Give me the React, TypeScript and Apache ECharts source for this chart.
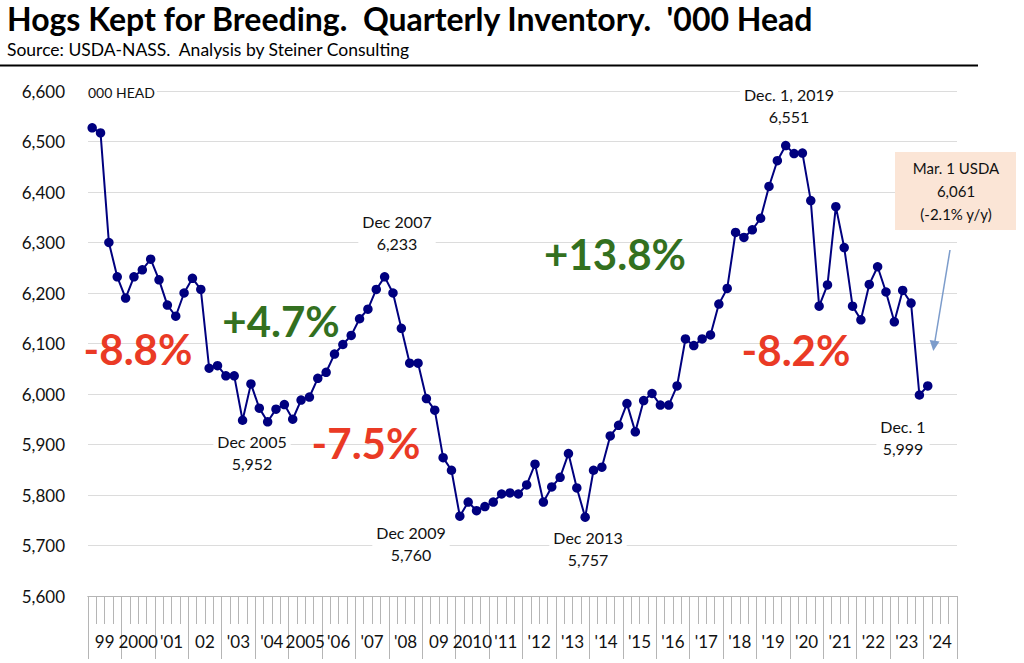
import React, { useEffect, useRef } from "react";
import * as echarts from "echarts";

// ---- Data ----
const yearLabels = [
  "99", "2000", "'01", "02", "'03", "'04", "2005", "'06", "'07", "'08", "09", "2010", "'11",
  "'12", "'13", "'14", "'15", "'16", "'17", "'18", "'19", "'20", "'21", "'22", "'23", "'24",
];
const quarterNames = ["Mar", "Jun", "Sep", "Dec"];
const firstYear = 1999;

// Hogs kept for breeding, '000 head, quarterly from Mar 1999
const inventory = [
  6527, 6517, 6300, 6232, 6190, 6232, 6246, 6267, 6226, 6176,
  6154, 6200, 6229, 6207, 6051, 6056, 6036, 6036, 5948, 6020,
  5972, 5945, 5970, 5979, 5950, 5988, 5994, 6031, 6043, 6079,
  6098, 6116, 6149, 6168, 6207, 6232, 6200, 6130, 6061, 6061,
  5991, 5968, 5874, 5849, 5758, 5786, 5769, 5777, 5786, 5802,
  5804, 5802, 5820, 5861, 5786, 5816, 5835, 5882, 5814, 5756,
  5849, 5855, 5917, 5938, 5981, 5925, 5987, 6001, 5978, 5978,
  6016, 6109, 6096, 6109, 6117, 6178, 6209, 6320, 6310, 6325,
  6348, 6411, 6462, 6492, 6476, 6477, 6383, 6174, 6216, 6371,
  6290, 6174, 6147, 6217, 6252, 6202, 6143, 6205, 6180, 5998,
  6016,
];

const yMin = 5600;
const yMax = 6600;
const yStep = 100;

const titleText = "Hogs Kept for Breeding.\u00a0 Quarterly Inventory.\u00a0 '000 Head";
const subtitleText = "Source: USDA-NASS.\u00a0 Analysis by Steiner Consulting";
const unitText = "000 HEAD";
const pointNotes = [
  "Dec 2005\n5,952",
  "Dec 2007\n6,233",
  "Dec 2009\n5,760",
  "Dec 2013\n5,757",
  "Dec. 1, 2019\n6,551",
  "Dec. 1\n5,999",
];
const changeNotes = ["-8.8%", "+4.7%", "-7.5%", "+13.8%", "-8.2%"];
const usdaNote = "Mar. 1 USDA\n6,061\n(-2.1% y/y)";

const quarterCats = yearLabels.flatMap((_, i) =>
  quarterNames.map((q) => `${q} ${firstYear + i}`)
);

const FONT = "Lato, 'Open Sans', sans-serif";
const RED = "#EA3A25";
const GREEN = "#33701F";

function noteText(text: string, x: number, y: number) {
  return {
    type: "text",
    x,
    y,
    z: 10,
    style: {
      text,
      fill: "#111",
      fontSize: 16,
      fontFamily: FONT,
      lineHeight: 22,
      align: "center",
      verticalAlign: "middle",
      textAlign: "center",
      textVerticalAlign: "middle",
      backgroundColor: "#fff",
      padding: [1, 4],
    },
  };
}

function bigText(text: string, x: number, y: number, color: string) {
  return {
    type: "text",
    x,
    y,
    z: 10,
    style: {
      text,
      fill: color,
      fontSize: 42,
      fontWeight: "bold",
      fontFamily: FONT,
      align: "center",
      verticalAlign: "middle",
      textAlign: "center",
      textVerticalAlign: "middle",
    },
  };
}

export default function App() {
  const ref = useRef<HTMLDivElement>(null);

  useEffect(() => {
    if (!ref.current) return;
    const chart = echarts.init(ref.current, null, { renderer: "svg" });

    const option: any = {
      animation: false,
      backgroundColor: "#fff",
      textStyle: { fontFamily: FONT },
      grid: { left: 88, right: 67, top: 91, bottom: 67, containLabel: false },
      xAxis: [
        {
          type: "category",
          position: "bottom",
          data: quarterCats,
          boundaryGap: true,
          axisLine: { show: true, lineStyle: { color: "#B5B5B5", width: 1 } },
          axisTick: { show: true, interval: 0, length: 28, lineStyle: { color: "#B5B5B5" } },
          axisLabel: { show: false },
          splitLine: { show: false },
        },
        {
          type: "category",
          position: "bottom",
          data: yearLabels,
          boundaryGap: true,
          axisLine: { show: true, lineStyle: { color: "#B5B5B5", width: 1 } },
          axisTick: { show: true, interval: 0, length: 63, lineStyle: { color: "#B5B5B5" } },
          axisLabel: {
            show: true,
            interval: 0,
            margin: 37,
            fontSize: 17,
            fontFamily: FONT,
            color: "#111",
          },
          splitLine: { show: false },
        },
      ],
      yAxis: {
        type: "value",
        min: yMin,
        max: yMax,
        interval: yStep,
        axisLine: { show: false },
        axisTick: { show: false },
        axisLabel: {
          margin: 23,
          fontSize: 17,
          fontFamily: FONT,
          color: "#111",
          formatter: (v: number) => v.toLocaleString("en-US"),
        },
        splitLine: { show: true, lineStyle: { color: "#DCDCDC", width: 1 } },
      },
      series: [
        {
          type: "line",
          xAxisIndex: 0,
          yAxisIndex: 0,
          data: inventory,
          symbol: "circle",
          symbolSize: 9.5,
          showAllSymbol: true,
          lineStyle: { color: "#00007F", width: 2 },
          itemStyle: { color: "#00007F" },
          z: 3,
        },
      ],
      graphic: [
        {
          type: "text",
          x: 7,
          y: 18,
          style: {
            text: titleText,
            fill: "#000",
            fontSize: 32,
            fontWeight: "bold",
            fontFamily: FONT,
            align: "left",
            verticalAlign: "middle",
            textAlign: "left",
            textVerticalAlign: "middle",
          },
        },
        {
          type: "text",
          x: 7,
          y: 49,
          style: {
            text: subtitleText,
            fill: "#000",
            fontSize: 17.5,
            fontFamily: FONT,
            align: "left",
            verticalAlign: "middle",
            textAlign: "left",
            textVerticalAlign: "middle",
          },
        },
        {
          type: "line",
          shape: { x1: 0, y1: 65.5, x2: 978, y2: 65.5 },
          style: { stroke: "#000", lineWidth: 2 },
        },
        {
          type: "text",
          x: 86,
          y: 92,
          z: 10,
          style: {
            text: unitText,
            fill: "#111",
            fontSize: 14,
            fontFamily: FONT,
            align: "left",
            verticalAlign: "middle",
            textAlign: "left",
            textVerticalAlign: "middle",
            backgroundColor: "#fff",
            padding: [2, 2],
          },
        },
        noteText(pointNotes[0], 252, 452),
        noteText(pointNotes[1], 397, 232),
        noteText(pointNotes[2], 411, 543),
        noteText(pointNotes[3], 588, 548),
        noteText(pointNotes[4], 789, 105),
        noteText(pointNotes[5], 903, 437),
        bigText(changeNotes[0], 138, 349, RED),
        bigText(changeNotes[1], 281, 321, GREEN),
        bigText(changeNotes[2], 366, 443, RED),
        bigText(changeNotes[3], 615, 254, GREEN),
        bigText(changeNotes[4], 796, 350, RED),
        {
          type: "rect",
          z: 9,
          shape: { x: 895, y: 152, width: 121, height: 78 },
          style: { fill: "#FBE5D6" },
        },
        {
          type: "text",
          x: 956,
          y: 191,
          z: 10,
          style: {
            text: usdaNote,
            fill: "#111",
            fontSize: 15,
            fontFamily: FONT,
            lineHeight: 23,
            align: "center",
            verticalAlign: "middle",
            textAlign: "center",
            textVerticalAlign: "middle",
          },
        },
        {
          type: "line",
          z: 10,
          shape: { x1: 950, y1: 250, x2: 934.8, y2: 342 },
          style: { stroke: "#7C9CCB", lineWidth: 1.5 },
        },
        {
          type: "polygon",
          z: 10,
          shape: { points: [[933.3, 351], [939.5, 341.5], [929.7, 340]] },
          style: { fill: "#7C9CCB" },
        },
      ],
    };

    chart.setOption(option);
    return () => chart.dispose();
  }, []);

  return (
    <div
      ref={ref}
      style={{ position: "absolute", left: 0, top: 0, width: 1024, height: 663, background: "#fff" }}
    />
  );
}
